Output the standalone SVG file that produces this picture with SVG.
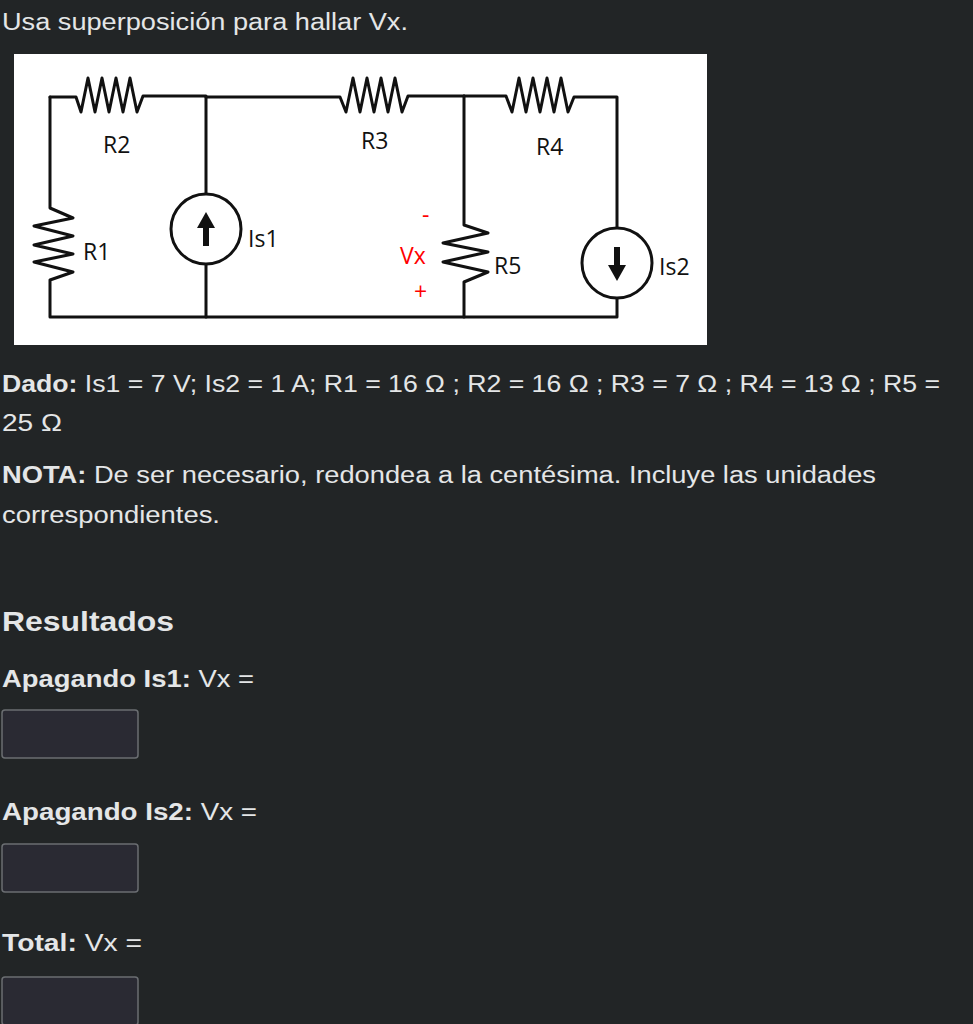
<svg xmlns="http://www.w3.org/2000/svg" width="973" height="1024" viewBox="0 0 973 1024">
<style>
.t{font-family:"Liberation Sans",Arial,sans-serif;font-size:23px;fill:#e4e6e7}
.b{font-weight:bold}
.w{fill:none;stroke:#111;stroke-width:3;stroke-linejoin:round;stroke-linecap:round}
.l{font-family:"Open Sans","Liberation Sans",sans-serif;font-size:23px;fill:#111}
.r{fill:#f00}
.box{fill:#2a2a33;stroke:#6b6e72;stroke-width:1.5}
</style>
<rect width="973" height="1024" fill="#222526"/>
<text class="t" x="2" y="30" textLength="406" lengthAdjust="spacingAndGlyphs">Usa superposición para hallar Vx.</text>
<g id="circuit">
<rect x="14" y="54" width="693" height="291" fill="#fff"/>
<g id="wires">
<path class="w" d="M50 97 H76 L81 112 L88 78 L95 112 L102 78 L109 112 L116 78 L123 112 L130 78 L137 112 L143 96 H206"/>
<path class="w" d="M206 97 H340 L346 112 L353 78 L360 112 L367 78 L374 112 L381 78 L388 112 L395 78 L402 112 L408 96 H464"/>
<path class="w" d="M464 96 H506 L512 112 L519 78 L526 112 L533 78 L540 112 L547 78 L554 112 L561 78 L568 112 L574 97 H617 V227"/>
<path class="w" d="M50 97 V208 L73 218 L34 226 L73 236 L34 245 L73 254 L34 262 L73 272 L50 280 V317 H617 V298"/>
<path class="w" d="M206 97 V194 M206 264 V317"/>
<path class="w" d="M464 96 V225 L488 233 L443 243 L488 252 L443 262 L488 272 L464 282 V317"/>
</g>
<g id="Is1"><circle cx="206" cy="229" r="35" fill="#fff" stroke="#111" stroke-width="3"/>
<path d="M206 212 L197 228 H203 V246 H209 V228 H215 Z" fill="#111"/></g>
<g id="Is2"><circle cx="617" cy="263" r="35" fill="#fff" stroke="#111" stroke-width="3"/>
<path d="M617 281 L608 265 H614 V247 H620 V265 H626 Z" fill="#111"/></g>
<text class="l" x="103" y="153">R2</text>
<text class="l" x="361" y="149">R3</text>
<text class="l" x="536" y="155">R4</text>
<text class="l" x="83" y="260">R1</text>
<text class="l" x="248" y="247">Is1</text>
<text class="l" x="494" y="274">R5</text>
<text class="l" x="659" y="275">Is2</text>
<text class="l r" x="400" y="264">Vx</text>
<text class="l r" x="422" y="223">-</text>
<text class="l r" x="414" y="300">+</text>
</g>
<text class="t" x="2" y="392" textLength="938" lengthAdjust="spacingAndGlyphs"><tspan class="b">Dado:</tspan> Is1 = 7 V; Is2 = 1 A; R1 = 16 Ω ; R2 = 16 Ω ; R3 = 7 Ω ; R4 = 13 Ω ; R5 =</text>
<text class="t" x="2" y="431" textLength="60" lengthAdjust="spacingAndGlyphs">25 Ω</text>
<text class="t" x="2" y="483" textLength="874" lengthAdjust="spacingAndGlyphs"><tspan class="b">NOTA:</tspan> De ser necesario, redondea a la centésima. Incluye las unidades</text>
<text class="t" x="2" y="523" textLength="218" lengthAdjust="spacingAndGlyphs">correspondientes.</text>
<text class="t b" x="2" y="631" style="font-size:28px" textLength="172" lengthAdjust="spacingAndGlyphs">Resultados</text>
<text class="t" x="2" y="687" textLength="252" lengthAdjust="spacingAndGlyphs"><tspan class="b">Apagando Is1:</tspan>  Vx =</text>
<rect class="box" x="2" y="710" width="136" height="48" rx="3"/>
<text class="t" x="2" y="820" textLength="255" lengthAdjust="spacingAndGlyphs"><tspan class="b">Apagando Is2:</tspan>  Vx =</text>
<rect class="box" x="2" y="844" width="136" height="48" rx="3"/>
<text class="t" x="2" y="951" textLength="140" lengthAdjust="spacingAndGlyphs"><tspan class="b">Total:</tspan>  Vx =</text>
<rect class="box" x="2" y="977" width="136" height="48" rx="3"/>
</svg>
